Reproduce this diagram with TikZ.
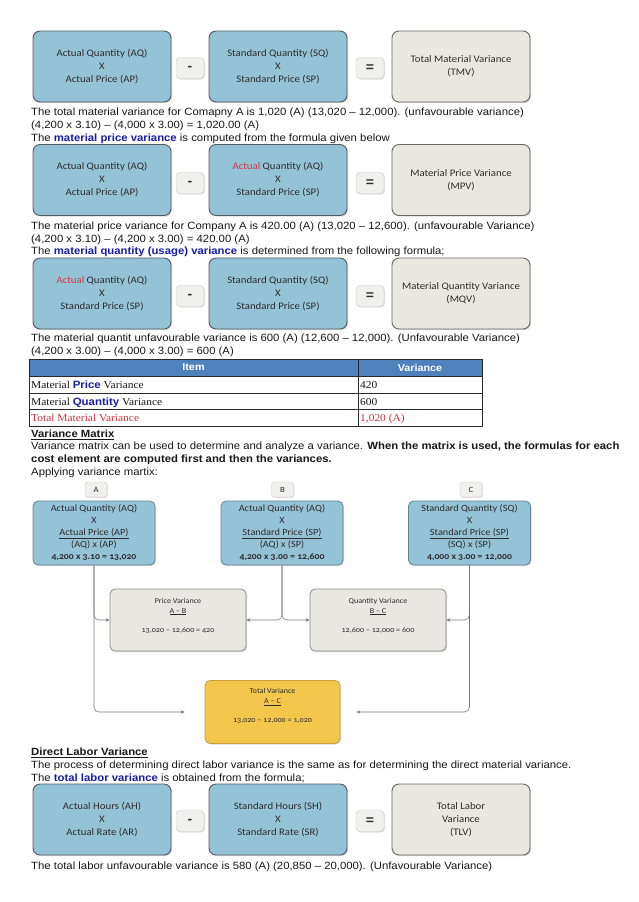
\documentclass[tikz,border=0pt]{standalone}
\usepackage{fontspec}
\setmainfont{Liberation Sans}[FakeStretch=1.08]
\newfontfamily\carlito{Carlito}[FakeStretch=1.08]
\newfontfamily\carlitoOS{Carlito}[Numbers=OldStyle,FakeStretch=1.08]
\newfontfamily\timesf{Liberation Serif}[FakeStretch=1.08]
\usetikzlibrary{shadows,arrows.meta}
\definecolor{boxblue}{RGB}{148,194,214}
\definecolor{boxedge}{RGB}{80,92,98}
\definecolor{boxbeige}{RGB}{233,231,223}
\definecolor{beigeedge}{RGB}{105,105,100}
\definecolor{boxtext}{RGB}{45,45,45}
\definecolor{opfill}{RGB}{240,240,238}
\definecolor{opedge}{RGB}{200,200,200}
\definecolor{maintext}{RGB}{25,25,25}
\definecolor{kblue}{RGB}{25,30,165}
\definecolor{actred}{RGB}{205,55,65}
\definecolor{hdrblue}{RGB}{79,129,189}
\definecolor{tableedge}{RGB}{40,40,40}
\definecolor{mgray}{RGB}{232,231,226}
\definecolor{mgrayedge}{RGB}{140,140,135}
\definecolor{mbedge}{RGB}{100,130,145}
\definecolor{gold}{RGB}{243,198,76}
\definecolor{goldedge}{RGB}{200,160,55}
\definecolor{conngray}{RGB}{120,120,120}
\newcommand\bluebf[1]{\textcolor{kblue}{\textbf{#1}}}
\tikzset{
  fbox/.style={draw=boxedge, line width=0.9pt, rounded corners=7pt, minimum width=138pt, minimum height=71pt, inner sep=0pt, align=center, font=\carlito\fontsize{10}{13}\selectfont, text=boxtext, drop shadow={shadow xshift=1.2pt, shadow yshift=-1.2pt, opacity=0.3}},
  bluebox/.style={fbox, fill=boxblue},
  beigebox/.style={fbox, fill=boxbeige, draw=beigeedge},
  opbox/.style={draw=opedge, line width=0.4pt, fill=opfill, rounded corners=4pt, minimum width=28pt, minimum height=21pt, inner sep=0pt, font=\bfseries\fontsize{13}{13}\selectfont, text=boxtext, drop shadow={shadow xshift=1pt, shadow yshift=-1pt, opacity=0.25}},
  txt/.style={anchor=base west, inner sep=0pt, font=\fontsize{10.5}{12}\selectfont, text=maintext},
  ttxt/.style={anchor=base west, inner sep=0pt, font=\timesf\fontsize{10.6}{12}\selectfont, text=maintext},
  mbox/.style={line width=0.8pt, rounded corners=5pt, inner sep=0pt, align=center, text=boxtext, drop shadow={shadow xshift=1pt, shadow yshift=-1pt, opacity=0.3}},
  mblue/.style={mbox, draw=mbedge, fill=boxblue, minimum width=122pt, minimum height=64pt, font=\carlito\fontsize{9.5}{12}\selectfont},
  mgraybox/.style={mbox, draw=mgrayedge, fill=mgray, minimum width=136pt, minimum height=62pt},
  mgoldbox/.style={mbox, draw=goldedge, fill=gold, minimum width=135pt, minimum height=63pt},
  mtxt/.style={inner sep=0pt, align=center, text=boxtext, font=\carlito\fontsize{7.5}{10}\selectfont},
  numl/.style={},
  lbl/.style={draw=opedge, line width=0.4pt, fill=opfill, rounded corners=3pt, minimum width=22pt, minimum height=15pt, inner sep=0pt, font=\carlito\fontsize{8}{8}\selectfont, text=boxtext, drop shadow={shadow xshift=0.8pt, shadow yshift=-0.8pt, opacity=0.25}},
  conn/.style={draw=conngray, line width=0.6pt, rounded corners=5pt, -{Stealth[length=4pt,width=3.5pt]}}
}
\newcommand\mnum[1]{{\carlitoOS\bfseries\fontsize{9}{12}\selectfont #1}}
\begin{document}
\begin{tikzpicture}[x=1pt,y=-1pt]
\useasboundingbox[fill=white] (0,0) rectangle (638,902);

% Row 1
\node[bluebox] (r1a) at (102,66.5) {Actual Quantity (AQ)\\X\\Actual Price (AP)};
\node[opbox] (r1m) at (190,68) {-};
\node[bluebox] (r1b) at (278,66.5) {Standard Quantity (SQ)\\X\\Standard Price (SP)};
\node[opbox] (r1e) at (370,68) {=};
\node[beigebox] (r1c) at (461,66.5) {Total Material Variance\\(TMV)};

\node[txt] (t1) at (31,115.5) {The total material variance for Comapny A is 1,020 (A) (13,020 – 12,000). (unfavourable variance)};
\node[txt] (t2) at (31,128.6) {(4,200 x 3.10) – (4,000 x 3.00) = 1,020.00 (A)};
\node[txt] (t3) at (31,141.3) {The \bluebf{material price variance} is computed from the formula given below};

% Row 2
\node[bluebox] (r2a) at (102,180) {Actual Quantity (AQ)\\X\\Actual Price (AP)};
\node[opbox] (r2m) at (190,183) {-};
\node[bluebox] (r2b) at (278,180) {\textcolor{actred}{Actual} Quantity (AQ)\\X\\Standard Price (SP)};
\node[opbox] (r2e) at (370,183) {=};
\node[beigebox] (r2c) at (461,180) {Material Price Variance\\(MPV)};

\node[txt] (t4) at (31,229.3) {The material price variance for Company A is 420.00 (A) (13,020 – 12,600). (unfavourable Variance)};
\node[txt] (t5) at (31,242.3) {(4,200 x 3.10) – (4,200 x 3.00) = 420.00 (A)};
\node[txt] (t6) at (31,254.8) {The \bluebf{material quantity (usage) variance} is determined from the following formula;};

% Row 3
\node[bluebox] (r3a) at (102,293.5) {\textcolor{actred}{Actual} Quantity (AQ)\\X\\Standard Price (SP)};
\node[opbox] (r3m) at (190,296) {-};
\node[bluebox] (r3b) at (278,293.5) {Standard Quantity (SQ)\\X\\Standard Price (SP)};
\node[opbox] (r3e) at (370,296) {=};
\node[beigebox] (r3c) at (461,293.5) {Material Quantity Variance\\(MQV)};

\node[txt] (t7) at (31,341.7) {The material quantit unfavourable variance is 600 (A) (12,600 – 12,000). (Unfavourable Variance)};
\node[txt] (t8) at (31,354.6) {(4,200 x 3.00) – (4,000 x 3.00) = 600 (A)};

% Table
\fill[hdrblue] (29,359) rectangle (482,376);
\draw[tableedge, line width=0.8pt] (29,359) rectangle (482,426);
\draw[tableedge, line width=0.8pt] (29,376) -- (482,376) (29,393) -- (482,393) (29,409) -- (482,409) (358,359) -- (358,426);
\node[inner sep=0pt, font=\bfseries\fontsize{10}{12}\selectfont, text=white] (th1) at (193.5,367.5) {Item};
\node[inner sep=0pt, font=\bfseries\fontsize{10}{12}\selectfont, text=white] (th2) at (420,367.5) {Variance};
\node[ttxt] (c11) at (31,388.5) {Material \textcolor{kblue}{\normalfont\bfseries Price} Variance};
\node[ttxt] (c12) at (360,388.5) {420};
\node[ttxt] (c21) at (31,405) {Material \textcolor{kblue}{\normalfont\bfseries Quantity} Variance};
\node[ttxt] (c22) at (360,405) {600};
\node[ttxt, text=actred] (c31) at (31,421.5) {Total Material  Variance};
\node[ttxt, text=actred] (c32) at (360,421.5) {1,020 (A)};

\node[txt] (t9) at (31,437.6) {\underline{\textbf{Variance Matrix}}};
\node[txt] (t10) at (31,449.7) {Variance matrix can be used to determine and analyze a variance. \textbf{When the matrix is used, the formulas for each}};
\node[txt] (t11) at (31,462.6) {\textbf{cost element are computed first and then the variances.}};
\node[txt] (t12) at (31,475.6) {Applying variance martix:};

% Variance matrix
\node[lbl] (la) at (96,489.5) {A};
\node[lbl] (lb) at (282.5,489.5) {B};
\node[lbl] (lc) at (471,489.5) {C};
\node[mblue] (ma) at (94,533) {Actual Quantity (AQ)\\X\\\underline{Actual Price (AP)}\\(AQ) x (AP)\\\mnum{4,200 x 3.10 = 13,020}};
\node[mblue] (mb) at (282,533) {Actual Quantity (AQ)\\X\\\underline{Standard Price (SP)}\\(AQ) x (SP)\\\mnum{4,200 x 3.00 = 12,600}};
\node[mblue] (mc) at (469.5,533) {Standard Quantity (SQ)\\X\\\underline{Standard Price (SP)}\\(SQ) x (SP)\\\mnum{4,000 x 3.00 = 12,000}};

\node[mgraybox] (pv) at (178,620) {};
\node[mgraybox] (qv) at (378,620) {};
\node[mgoldbox] (tv) at (272.5,712) {};
\node[mtxt] (pvt) at (178,615.5) {Price Variance\\\underline{A – B}\\[9pt]{\carlitoOS 13,020 – 12,600 = 420}};
\node[mtxt] (qvt) at (378,615.5) {Quantity Variance\\\underline{B – C}\\[9pt]{\carlitoOS 12,600 – 12,000 = 600}};
\node[mtxt] (tvt) at (272.5,706) {Total Variance\\\underline{A – C}\\[9pt]{\carlitoOS 13,020 – 12,000 = 1,020}};

\draw[conn] (ma.south) |- (pv.west);
\draw[conn, shorten >=20pt] (ma.south) |- (tv.west);
\draw[conn] (mb.south) |- (pv.east);
\draw[conn] (mb.south) |- (qv.west);
\draw[conn] (mc.south) |- (qv.east);
\draw[conn, shorten >=16pt] (mc.south) |- (tv.east);

% Direct labor
\node[txt] (t13) at (31,755.6) {\underline{\textbf{Direct Labor Variance}}};
\node[txt] (t14) at (31,768.6) {The process of determining direct labor variance is the same as for determining the direct material variance.};
\node[txt] (t15) at (31,781.3) {The \bluebf{total labor variance} is obtained from the formula;};

\node[bluebox] (r4a) at (102,819.5) {Actual Hours (AH)\\X\\Actual Rate (AR)};
\node[opbox] (r4m) at (190,821) {-};
\node[bluebox] (r4b) at (278,819.5) {Standard Hours (SH)\\X\\Standard Rate (SR)};
\node[opbox] (r4e) at (370,821) {=};
\node[beigebox] (r4c) at (461,819.5) {Total Labor\\Variance\\(TLV)};

\node[txt] (t16) at (31,869.3) {The total labor unfavourable variance is 580 (A) (20,850 – 20,000). (Unfavourable Variance)};
\end{tikzpicture}
\end{document}
